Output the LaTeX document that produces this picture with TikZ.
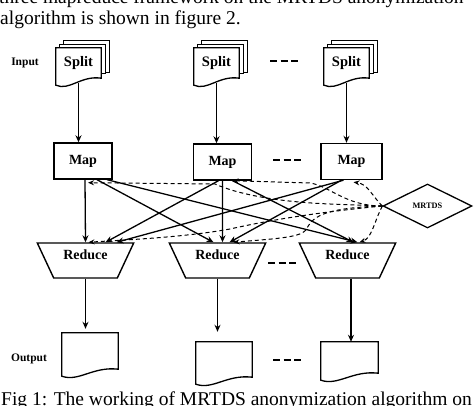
\documentclass[tikz,border=0pt]{standalone}
\usepackage{fontspec}
\setmainfont{Liberation Serif}
\usetikzlibrary{shapes.geometric,arrows.meta,calc,backgrounds}

\tikzset{
  pageline/.style={draw,fill=white,line width=1.3pt},
  sheet/.style={inner sep=0pt,minimum width=45pt,minimum height=37pt,
    font=\fontsize{14.5}{16}\selectfont\bfseries,text height=10pt,text depth=10pt},
  outsheet/.style={inner sep=0pt,minimum width=56pt},
  mapbox/.style={draw,line width=1.4pt,minimum width=58pt,minimum height=36pt,
    inner sep=0pt,font=\fontsize{14}{16}\selectfont\bfseries},
  reducer/.style={draw,trapezium,shape border rotate=180,trapezium angle=61.5,
    trapezium stretches=true,minimum width=97pt,minimum height=35pt,line width=1.4pt,
    inner sep=0pt,font=\fontsize{14}{16}\selectfont\bfseries,text height=9pt,text depth=12pt},
  flow/.style={line width=1.3pt,-{Stealth[length=7pt,width=6pt]}},
  hint/.style={line width=1pt,dash pattern=on 4pt off 3pt,-{Stealth[length=6pt,width=5pt]}},
  gapdash/.style={line width=2.8pt,dash pattern=on 7pt off 3.5pt},
  side/.style={font=\fontsize{11.5}{13}\selectfont\bfseries},
  prose/.style={anchor=base west,inner sep=0pt,font=\fontsize{19.5}{22}\selectfont}
}

% front sheet with a wavy foot
\newcommand{\docpage}[1]{%
  \draw[pageline] (#1.south west) -- (#1.north west) -- (#1.north east)
    -- ($(#1.south east)+(0,-7)$)
    .. controls ($(#1.south west)!0.55!(#1.south east)+(0,-10)$) and ($(#1.south west)!0.3!(#1.south east)+(0,6)$) .. cycle;}
% stack of three sheets
\newcommand{\docstack}[1]{%
  \draw[pageline] ($(#1.north west)+(8,-7)$) rectangle ($(#1.south east)+(8,-13)$);
  \draw[pageline] ($(#1.north west)+(4,-3.5)$) rectangle ($(#1.south east)+(4,-12)$);
  \docpage{#1}}

\begin{document}
\begin{tikzpicture}[x=1pt,y=-1pt]
\useasboundingbox (0,0) rectangle (474,406);

% running text of the page
\node[prose] (line1) at (-1,4) {three mapreduce framework on the MRTDS anonymization};
\node[prose] (line2) at (0,25) {algorithm is shown in figure 2.};
\node[prose] (cap) at (1,405) {Fig 1: The working of MRTDS anonymization algorithm on};

% splits
\node[side] (input) at (25,63) {Input};
\node[sheet] (s1) at (78.5,66.5) {Split};
\node[sheet] (s2) at (216.5,66.5) {Split};
\node[sheet] (s3) at (346.5,66.5) {Split};

% maps
\node[mapbox] (m1) at (83,161) {Map};
\node[mapbox] (m2) at (222.5,162) {Map};
\node[mapbox,minimum width=61pt] (m3) at (351.5,161.5) {Map};

% reducers
\node[reducer] (r1) at (85.5,260.5) {Reduce};
\node[reducer] (r2) at (217.5,260.5) {Reduce};
\node[reducer] (r3) at (347.5,260.5) {Reduce};

% outputs
\node[side] (output) at (29,359) {Output};
\node[outsheet,minimum height=43pt] (o1) at (90,354.5) {};
\node[outsheet,minimum height=42pt] (o2) at (224,363) {};
\node[outsheet,minimum width=57pt,minimum height=38pt] (o3) at (349.5,361) {};

\node[draw,diamond,line width=1.3pt,minimum width=89pt,minimum height=44pt,inner sep=0pt,
  font=\fontsize{8.3}{10}\selectfont\bfseries] (mrtds) at (427.5,206) {MRTDS};

\begin{scope}[on background layer]
  \docstack{s1}
  \docstack{s2}
  \docstack{s3}
  \docpage{o1}
  \docpage{o2}
  \docpage{o3}
\end{scope}

% dots between the columns
\draw[gapdash] (270,61) -- (300,61);
\draw[gapdash] (273,160) -- (302,160);
\draw[gapdash] (268,263) -- (297,263);
\draw[gapdash] (273,360) -- (302,360);

% split to map
\draw[flow] ([yshift=2pt]s1.south) -- (s1.south |- m1.north);
\draw[flow] ([yshift=2pt]s2.south) -- (s2.south |- m2.north);
\draw[flow] ([yshift=2pt]s3.south) -- (s3.south |- m3.north);

% map to reduce
\draw[flow] ([xshift=2pt]m1.south) -- (r1.north);
\draw[flow] ([xshift=14pt]m1.south) -- ([xshift=-4pt]r2.north);
\draw[flow] ([xshift=24pt]m1.south) -- ([xshift=10pt]r3.north);
\draw[flow] (m2.south) -- ([xshift=5pt]r2.north);
\draw[flow] ([xshift=-4pt]m2.south) -- ([xshift=20pt]r1.north);
\draw[flow] ([xshift=10pt]m2.south) -- ([xshift=6pt]r3.north);
\draw[flow] ([xshift=-8pt]m3.south) -- ([xshift=31pt]r1.north);
\draw[flow] ([xshift=-10pt]m3.south) -- ([xshift=12pt]r2.north);

% reduce to output
\draw[flow] (r1.south) -- ([yshift=4pt]r1.south |- o1.north);
\draw[flow] (r2.south) -- ([yshift=10pt]r2.south |- o2.north);
\draw[flow] ([xshift=3.5pt]r3.south) -- ([xshift=3.5pt]r3.south |- o3.north);

% MRTDS hints
\draw[hint] (mrtds.west) -- (330,204) .. controls (280,202) and (240,195) .. (215,184) -- ([xshift=5pt,yshift=-3pt]m1.south);
\draw[hint] (mrtds.west) .. controls (345,206) and (330,186) .. (310,183) -- ([xshift=10pt]m2.south);
\draw[hint] (mrtds.west) .. controls (372,196) and (368,184) .. ([xshift=2pt,yshift=-2pt]m3.south);
\draw[hint] (mrtds.west) .. controls (374,222) and (372,238) .. ([xshift=12pt]r3.north);
\draw[hint] (mrtds.west) .. controls (320,208) and (312,218) .. (306,230) .. controls (300,238) and (270,239) .. ([xshift=16pt]r2.north);
\draw[hint] (mrtds.west) .. controls (320,212) and (270,220) .. (230,229) .. controls (180,238) and (120,240) .. ([xshift=3pt]r1.north);
\end{tikzpicture}
\end{document}
